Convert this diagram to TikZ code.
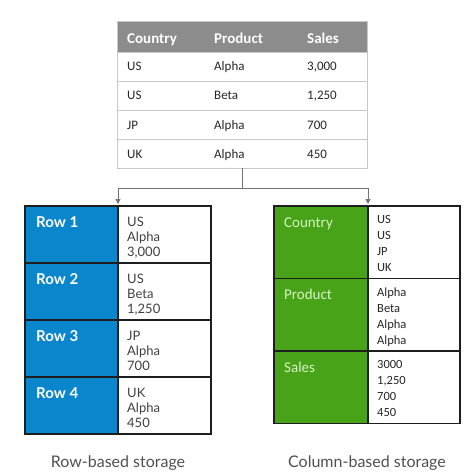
\documentclass[tikz,border=0pt]{standalone}
\usepackage{fontspec}
\setmainfont{Carlito}
\newfontfamily\latofont{Lato}
\usetikzlibrary{positioning,arrows.meta}
\definecolor{hdrgray}{HTML}{8C8C8C}
\definecolor{tblline}{HTML}{C8C8C8}
\definecolor{rowblue}{HTML}{0A86CD}
\definecolor{colgreen}{HTML}{48A318}
\definecolor{lightgreen}{HTML}{D6F4C2}
\definecolor{boxline}{HTML}{1E1E1E}
\definecolor{capgray}{HTML}{505050}

\begin{document}
\begin{tikzpicture}[x=1pt,y=-1pt,
		tblcell/.style={draw=tblline, line width=0.8pt, minimum width=250pt, minimum height=29pt, inner sep=0pt, outer sep=0pt, anchor=north west},
		hdrcell/.style={tblcell, fill=hdrgray, draw=hdrgray},
		hdrtxt/.style={anchor=base west, inner sep=0pt, text=white, font=\fontsize{15}{18}\selectfont\bfseries},
		tbltxt/.style={anchor=base west, inner sep=0pt, text=black!85, font=\fontsize{13}{15}\selectfont},
		rowcell/.style={draw=boxline, line width=1.1pt, fill=rowblue, minimum width=93pt, minimum height=57pt, inner sep=0pt, outer sep=0pt, anchor=north west},
		rowval/.style={rowcell, fill=white, anchor=west},
		rowlbl/.style={anchor=base west, inner sep=0pt, text=white, font=\latofont\fontsize{15}{18}\selectfont\bfseries},
		rowtxt/.style={anchor=north west, inner sep=0pt, align=left, text=black!75, font=\latofont\fontsize{13}{15}\selectfont},
		colcell/.style={rowcell, fill=colgreen, minimum width=94pt, minimum height=72.5pt},
		colval/.style={colcell, fill=white, minimum width=92pt, anchor=west},
		collbl/.style={anchor=base west, inner sep=0pt, text=lightgreen, font=\fontsize{15}{18}\selectfont},
		coltxt/.style={anchor=north west, inner sep=0pt, align=left, text=black!85, font=\fontsize{12.5}{16}\selectfont},
		conn/.style={draw=black!55, line width=1pt},
		caption/.style={anchor=base, inner sep=0pt, text=capgray, font=\latofont\fontsize{16}{19}\selectfont}]
	\useasboundingbox (0,0) rectangle (474,476);

	% source table
	\node[hdrcell] (hdr) at (117,22) {};
	\node[hdrtxt] (hcountry) at (127,44) {Country};
	\node[hdrtxt] (hproduct) at (214,44) {Product};
	\node[hdrtxt] (hsales) at (307,44) {Sales};
	\foreach \c/\p/\s [count=\i] in {US/Alpha/3{,}000, US/Beta/1{,}250, JP/Alpha/700, UK/Alpha/450} {
		\node[tblcell] (t\i) at (117,{52+29*(\i-1)}) {};
		\node[tbltxt] (tc\i) at (127,{71+29*(\i-1)}) {\c};
		\node[tbltxt] (tp\i) at (214,{71+29*(\i-1)}) {\p};
		\node[tbltxt] (ts\i) at (307,{71+29*(\i-1)}) {\s};
	}
	\draw[tblline, line width=1pt] (hdr.north west) rectangle (t4.south east);

	% row-based storage
	\foreach \c/\p/\s [count=\i] in {US/Alpha/3{,}000, US/Beta/1{,}250, JP/Alpha/700, UK/Alpha/450} {
		\node[rowcell] (row\i) at (25,{206+57*(\i-1)}) {};
		\node[rowval, right=0pt of row\i] (rowv\i) {};
		\node[rowlbl] (rowl\i) at (36,{227+57*(\i-1)}) {Row \i};
		\node[rowtxt] (rowt\i) at (127,{217+57*(\i-1)}) {\c\\\p\\\s};
	}

	% column-based storage
	\foreach \n/\v [count=\i] in {Country/{US\\US\\JP\\UK}, Product/{Alpha\\Beta\\Alpha\\Alpha}, Sales/{3000\\1{,}250\\700\\450}} {
		\node[colcell] (col\i) at (274,{206+72.5*(\i-1)}) {};
		\node[colval, right=0pt of col\i] (colv\i) {};
		\node[collbl] (coll\i) at (284,{227+72.5*(\i-1)}) {\n};
		\node[coltxt] (colt\i) at (377,{215+72.5*(\i-1)}) {\v};
	}

	% connectors
	\draw[conn] (t4.south) -- ++(0,20) coordinate (split);
	\draw[conn, -{Triangle[length=5pt,width=5pt]}, shorten >=2pt] (split) -| (row1.north east);
	\draw[conn, -{Triangle[length=5pt,width=5pt]}, shorten >=2pt] (split) -| (col1.north east);

	\node[caption] (rowcap) at (118,467) {Row-based storage};
	\node[caption] (colcap) at (367,467) {Column-based storage};
\end{tikzpicture}
\end{document}
